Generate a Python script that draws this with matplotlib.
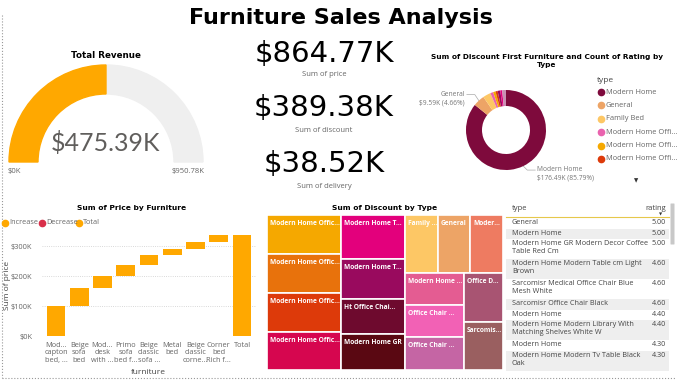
import matplotlib.pyplot as plt
import numpy as np
from matplotlib.patches import Wedge, Rectangle, FancyBboxPatch

plt.rcParams['font.family'] = ['Open Sans', 'DejaVu Sans']

# ---- data ----
revenue = 475.39
revenue_max = 950.78

kpi_values = [864.77, 389.38, 38.52]
kpi_labels = ['Sum of price', 'Sum of discount', 'Sum of delivery']

donut_types = ['Modern Home', 'General', 'Family Bed', 'Modern Home Offi...',
               'Modern Home Offi...', 'Modern Home Offi...', 'Modern Home T...',
               'Office Chair ...', 'Office D...']
donut_values = [176.49, 9.59, 6.5, 2.4, 2.0, 1.8, 2.2, 1.6, 3.14]
donut_colors = ['#7E0A3C', '#EDA466', '#FDC765', '#E963AE', '#F5A800',
                '#DD3A0A', '#9B0A5E', '#E3007C', '#C98FB3']

furniture = ['Mod...\ncapton\nbed, ...', 'Beige\nsofa\nbed', 'Mod...\ndesk\nwith ...',
             'Primo\nsofa\nbed f...', 'Beige\nclassic\nsofa ...', 'Metal\nbed',
             'Beige\nclassic\ncorne...', 'Corner\nbed\nRich f...']
price = [100, 61, 39, 37, 32, 22, 22, 23]  # $K

tm_labels = ['Modern Home Offic...', 'Modern Home Offic...', 'Modern Home Offic...',
             'Modern Home Offic...', 'Modern Home T...', 'Modern Home T...',
             'Ht Office Chai...', 'Modern Home GR', 'Family ...', 'General', 'Moder...',
             'Modern Home ...', 'Office Chair ...', 'Office Chair ...', 'Office D...',
             'Sarcomis...']
tm_values = [30.7, 30.7, 30.6, 30.0, 30.0, 26.6, 24.2, 24.1,
             20.4, 19.9, 20.3, 20.1, 20.1, 20.6, 20.3, 19.9]
tm_colors = ['#F5A800', '#E8720C', '#DD3A0A', '#D6064F',
             '#E3007C', '#990A5E', '#6E0A2E', '#5A0812',
             '#FDC765', '#EDA466', '#EE7B61',
             '#E45C92', '#F261B5', '#C565A4', '#A85472', '#9A5F60']
# nesting of the treemap: 'h' splits left-right, 'v' splits top-bottom
tm_tree = ('h', [('v', [0, 1, 2, 3]), ('v', [4, 5, 6, 7]),
                 ('v', [('h', [8, 9, 10]), ('h', [('v', [11, 12, 13]), ('v', [14, 15])])])])

table_types = ['General', 'Modern Home', 'Modern Home GR Modern Decor Coffee\nTable Red Cm',
               'Modern Home Modern Table cm Light\nBrown',
               'Sarcomisr Medical Office Chair Blue\nMesh White',
               'Sarcomisr Office Chair Black', 'Modern Home',
               'Modern Home Modern Library With\nMatching Shelves White W',
               'Modern Home', 'Modern Home Modern Tv Table Black\nOak']
table_rating = [5.00, 5.00, 5.00, 4.60, 4.60, 4.60, 4.40, 4.40, 4.30, 4.30]

# ---- figure ----
W, H = 680, 380
fig = plt.figure(figsize=(6.8, 3.8), dpi=100)


def px_axes(x, y, w, h):
    return fig.add_axes([x / W, 1 - (y + h) / H, w / W, h / H])


bg = fig.add_axes([0, 0, 1, 1])
bg.set_xlim(0, W)
bg.set_ylim(H, 0)
bg.axis('off')

gray = '#666666'
bg.text(341, 18, 'Furniture Sales Analysis', ha='center', va='center', fontsize=16,
        fontweight='bold', family='DejaVu Sans')
bg.plot([2, 2], [15, 378], ':', color='#999999', lw=0.8)
bg.plot([2, 676], [378, 378], ':', color='#999999', lw=0.8)

# gauge
bg.text(106, 56, 'Total Revenue', ha='center', va='center', fontsize=6.3,
        fontweight='bold', family='DejaVu Sans')
ga = px_axes(6, 62, 200, 102)
ga.set_xlim(-100, 100)
ga.set_ylim(-2, 100)
ga.axis('off')
split = 180 - 180 * revenue / revenue_max
ga.add_patch(Wedge((0, 0), 97, 0, split, width=29, color='#EFEFEF'))
ga.add_patch(Wedge((0, 0), 97, split, 180, width=29, color='#FFA800'))
bg.text(106, 143, f'${revenue:.2f}K', ha='center', va='center', fontsize=18,
        color='#605E5C', family='Lato')
bg.text(8, 172, '$0K', ha='left', va='center', fontsize=5.5, color=gray)
bg.text(204, 172, f'${revenue_max:.2f}K', ha='right', va='center', fontsize=5.5, color=gray)

# KPI cards
for v, lab, yv, yl in zip(kpi_values, kpi_labels, [54, 108, 164], [75, 130, 187]):
    bg.text(324, yv, f'${v:.2f}K', ha='center', va='center', fontsize=21,
            family='DejaVu Sans')
    bg.text(324, yl, lab, ha='center', va='center', fontsize=5.5, color=gray)

# donut
bg.text(547, 61, 'Sum of Discount First Furniture and Count of Rating by\nType',
        ha='center', va='center', fontsize=5.3, fontweight='bold',
        family='DejaVu Sans', linespacing=1.5)
cx, cy, R = 506, 130, 40
da = px_axes(cx - R, cy - R, 2 * R, 2 * R)
da.pie(donut_values, colors=donut_colors, startangle=90, counterclock=False,
       radius=1, wedgeprops=dict(width=0.4, linewidth=0))
da.set_xlim(-1, 1)
da.set_ylim(-1, 1)
total = sum(donut_values)
ang0 = 90
mids = []
for v in donut_values:
    sweep = 360 * v / total
    mids.append(np.radians(ang0 - sweep / 2))
    ang0 -= sweep
# labels for the two largest slices
for i, side in [(0, 1), (1, -1)]:
    a = mids[i]
    x0, y0 = cx + R * np.cos(a), cy - R * np.sin(a)
    lx = x0 + 12 * side
    ly = y0 + 4 if side > 0 else y0 - 6
    bg.plot([x0, x0 + 4 * side, lx], [y0, ly, ly], color='#AAAAAA', lw=0.5)
    txt = f'{donut_types[i]}\n${donut_values[i]:.2f}K ({donut_values[i] / total * 100:.2f}%)'
    bg.text(lx + 2 * side, ly - 4, txt, ha='left' if side > 0 else 'right', va='top',
            fontsize=4.8, color='#777777', linespacing=1.35)
bg.text(597, 81, 'type', ha='left', va='center', fontsize=6, color='#444444')
for k in range(6):
    yy = 92 + k * 13.4
    bg.plot(601, yy, 'o', ms=4.5, color=donut_colors[k])
    bg.text(606, yy, donut_types[k], ha='left', va='center', fontsize=5.4, color=gray)
bg.text(636, 181, '▼', ha='center', va='center', fontsize=4, color='#333333',
        family='DejaVu Sans')

# waterfall
bg.text(132, 208, 'Sum of Price by Furniture', ha='center', va='center', fontsize=5.4,
        fontweight='bold', family='DejaVu Sans')
for xm, lab, c in [(5, 'Increase', '#FFA800'), (42, 'Decrease', '#D9304A'),
                   (79, 'Total', '#FFA800')]:
    bg.plot(xm, 223, 'o', ms=4.5, color=c)
    bg.text(xm + 4, 223, lab, ha='left', va='center', fontsize=5.2, color=gray)
wa = px_axes(42, 232, 214, 104)
ends = np.cumsum(price)
heights = list(price) + [ends[-1]]
bottoms = list(ends - np.array(price)) + [0]
wa.bar(range(len(heights)), heights, bottom=bottoms, width=0.8, color='#FFA800', zorder=2)
wa.set_xlim(-0.6, len(heights) - 0.4)
wa.set_ylim(0, 347)
wa.set_yticks([0, 100, 200, 300])
wa.set_yticklabels(['$0K', '$100K', '$200K', '$300K'])
wa.set_xticks(range(len(heights)))
wa.set_xticklabels(furniture + ['Total'], linespacing=1.15)
wa.tick_params(length=0, labelsize=5.3, labelcolor=gray)
wa.tick_params(axis='y', pad=7)
wa.tick_params(axis='x', pad=4)
wa.yaxis.grid(True, linestyle=':', color='#CCCCCC', lw=0.6)
wa.set_axisbelow(True)
for s in wa.spines.values():
    s.set_visible(False)
bg.text(148, 372, 'furniture', ha='center', va='center', fontsize=6, color='#444444')
bg.text(8, 285, 'Sum of price', ha='center', va='center', fontsize=6, color='#444444',
        rotation=90)

# treemap
bg.text(385, 208, 'Sum of Discount by Type', ha='center', va='center', fontsize=5.4,
        fontweight='bold', family='DejaVu Sans')
tx, ty, tw, th = 267, 215, 236, 155
ta = px_axes(tx, ty, tw, th)
ta.set_xlim(0, 1)
ta.set_ylim(1, 0)
ta.axis('off')


def node_sum(n):
    if isinstance(n, int):
        return tm_values[n]
    return sum(node_sum(k) for k in n[1])


def layout(n, x, y, w, h, out):
    if isinstance(n, int):
        out[n] = (x, y, w, h)
        return
    d, kids = n
    tot = node_sum(n)
    off = 0
    for k in kids:
        f = node_sum(k) / tot
        if d == 'h':
            layout(k, x + off * w, y, f * w, h, out)
        else:
            layout(k, x, y + off * h, w, f * h, out)
        off += f


rects = {}
layout(tm_tree, 0, 0, 1, 1, rects)
for i, (x, y, w, h) in rects.items():
    ta.add_patch(Rectangle((x, y), w, h, facecolor=tm_colors[i], edgecolor='white', lw=1.2))
    ta.text(x + 3 / tw, y + 5 / th, tm_labels[i], ha='left', va='top', fontsize=4.8,
            color='white', fontweight='bold', clip_on=True)

# table
bg.text(512, 209, 'type', ha='left', va='center', fontsize=5.5, color='#444444')
bg.text(666, 208, 'rating', ha='right', va='center', fontsize=5.5, color='#444444')
bg.text(661, 214, '▼', ha='center', va='center', fontsize=3, color='#333333',
        family='DejaVu Sans')
bg.plot([506, 669], [217, 217], color='#E6C84B', lw=0.8)
ytop = 218
for i, (t, r) in enumerate(zip(table_types, table_rating)):
    nl = t.count('\n') + 1
    rh = 10.5 if nl == 1 else 20
    if i % 2 == 1:
        bg.add_patch(Rectangle((506, ytop), 163, rh, facecolor='#EEEEEE', lw=0))
    bg.text(512, ytop + 1.2, t, ha='left', va='top', fontsize=5.2, color='#444444',
            linespacing=1.2)
    bg.text(666, ytop + 1.2, f'{r:.2f}', ha='right', va='top', fontsize=5.2,
            color='#444444')
    ytop += rh
bg.add_patch(FancyBboxPatch((671, 204), 3, 40, boxstyle='round,pad=0.5',
                            facecolor='#C8C8C8', lw=0))

fig.savefig('out.png', dpi=100)
